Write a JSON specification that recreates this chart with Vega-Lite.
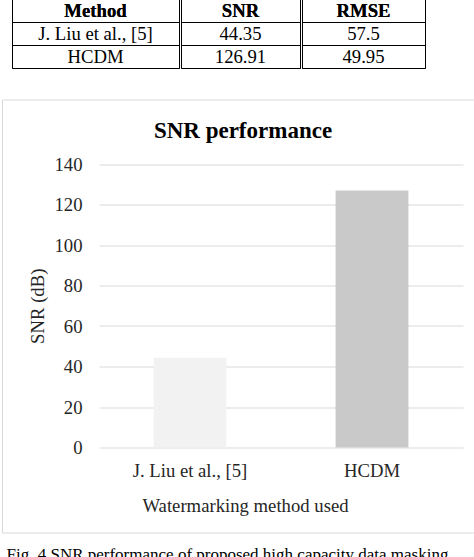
{
  "$schema": "https://vega.github.io/schema/vega-lite/v6.json",
  "padding": {"left": 1, "top": -2, "right": 0, "bottom": 0},
  "background": "white",
  "config": {
    "font": "Liberation Serif",
    "view": {"stroke": null},
    "text": {"font": "Liberation Serif", "fontSize": 18.7, "color": "black"}
  },
  "title": {
    "text": "Fig. 4 SNR performance of proposed high capacity data masking",
    "orient": "bottom",
    "anchor": "start",
    "font": "Liberation Serif",
    "fontSize": 17,
    "fontWeight": "normal",
    "color": "black",
    "offset": 14,
    "dx": 5
  },
  "data": {
    "values": [
      {"Method": "J. Liu et al., [5]", "SNR": 44.35, "RMSE": 57.5},
      {"Method": "HCDM", "SNR": 126.91, "RMSE": 49.95}
    ]
  },
  "spacing": 29.5,
  "vconcat": [
    {
      "spacing": 0,
      "hconcat": [
        {
          "width": 9,
          "height": 69,
          "data": {"values": []},
          "mark": "point"
        },
        {
          "width": 167,
          "height": 69,
          "view": {"stroke": "black", "strokeWidth": 1},
          "encoding": {
            "y": {
              "field": "Method",
              "type": "nominal",
              "scale": {"domain": ["head", "J. Liu et al., [5]", "HCDM"], "paddingInner": 0, "paddingOuter": 0},
              "axis": {"grid": true, "tickBand": "extent", "labels": false, "ticks": false, "domain": false, "title": null, "gridColor": "black", "gridOpacity": 1, "minExtent": 0, "maxExtent": 0}
            }
          },
          "layer": [
            {
              "mark": {"type": "text", "fontWeight": "bold"},
              "encoding": {"y": {"datum": "head", "type": "nominal"}, "text": {"value": "Method"}}
            },
            {
              "mark": {"type": "text"},
              "encoding": {"text": {"field": "Method", "type": "nominal"}}
            }
          ]
        },
        {
          "width": 119,
          "height": 69,
          "view": {"stroke": "black", "strokeWidth": 1},
          "encoding": {
            "y": {
              "field": "Method",
              "type": "nominal",
              "scale": {"domain": ["head", "J. Liu et al., [5]", "HCDM"], "paddingInner": 0, "paddingOuter": 0},
              "axis": {"grid": true, "tickBand": "extent", "labels": false, "ticks": false, "domain": false, "title": null, "gridColor": "black", "gridOpacity": 1, "minExtent": 0, "maxExtent": 0}
            }
          },
          "layer": [
            {
              "mark": {"type": "text", "fontWeight": "bold"},
              "encoding": {"y": {"datum": "head", "type": "nominal"}, "text": {"value": "SNR"}}
            },
            {
              "mark": {"type": "text"},
              "encoding": {"text": {"field": "SNR", "type": "nominal"}}
            }
          ]
        },
        {
          "width": 123,
          "height": 69,
          "view": {"stroke": "black", "strokeWidth": 1},
          "encoding": {
            "y": {
              "field": "Method",
              "type": "nominal",
              "scale": {"domain": ["head", "J. Liu et al., [5]", "HCDM"], "paddingInner": 0, "paddingOuter": 0},
              "axis": {"grid": true, "tickBand": "extent", "labels": false, "ticks": false, "domain": false, "title": null, "gridColor": "black", "gridOpacity": 1, "minExtent": 0, "maxExtent": 0}
            }
          },
          "layer": [
            {
              "mark": {"type": "text", "fontWeight": "bold"},
              "encoding": {"y": {"datum": "head", "type": "nominal"}, "text": {"value": "RMSE"}}
            },
            {
              "mark": {"type": "text"},
              "encoding": {"text": {"field": "RMSE", "type": "nominal"}}
            }
          ]
        }
      ]
    },
    {
      "width": 472,
      "height": 433,
      "view": {"stroke": "#d9d9d9", "strokeWidth": 1},
      "title": {
        "text": "SNR performance",
        "frame": "group",
        "anchor": "middle",
        "font": "Liberation Serif",
        "fontSize": 23,
        "fontWeight": "bold",
        "color": "black",
        "offset": -43,
        "dx": 5
      },
      "mark": {"type": "bar"},
      "encoding": {
        "x": {
          "field": "Method",
          "type": "nominal",
          "sort": null,
          "scale": {"range": [97, 461], "paddingInner": 0.6, "paddingOuter": 0.3},
          "axis": {
            "orient": "bottom",
            "offset": -85,
            "domain": false,
            "ticks": false,
            "labelAngle": 0,
            "labelFont": "Liberation Serif",
            "labelFontSize": 18.7,
            "labelColor": "#262626",
            "labelPadding": 14,
            "title": "Watermarking method used",
            "titleFont": "Liberation Serif",
            "titleFontSize": 18.7,
            "titleFontWeight": "normal",
            "titleColor": "#262626",
            "titlePadding": 16,
            "titleX": 243
          }
        },
        "y": {
          "field": "SNR",
          "type": "quantitative",
          "scale": {"domain": [0, 140], "range": [348, 64.5], "nice": false},
          "axis": {
            "orient": "left",
            "offset": -80,
            "values": [0, 20, 40, 60, 80, 100, 120, 140],
            "grid": true,
            "gridColor": "#d9d9d9",
            "gridWidth": 1,
            "domain": false,
            "ticks": false,
            "tickSize": 0,
            "labelPadding": 0,
            "labelFont": "Liberation Serif",
            "labelFontSize": 18.7,
            "labelColor": "#262626",
            "title": "SNR (dB)",
            "titleFont": "Liberation Serif",
            "titleFontSize": 18.7,
            "titleFontWeight": "normal",
            "titleColor": "#262626",
            "titlePadding": 6
          }
        },
        "color": {
          "field": "Method",
          "type": "nominal",
          "scale": {"domain": ["J. Liu et al., [5]", "HCDM"], "range": ["#f2f2f2", "#c9c9c9"]},
          "legend": null
        }
      }
    }
  ]
}
